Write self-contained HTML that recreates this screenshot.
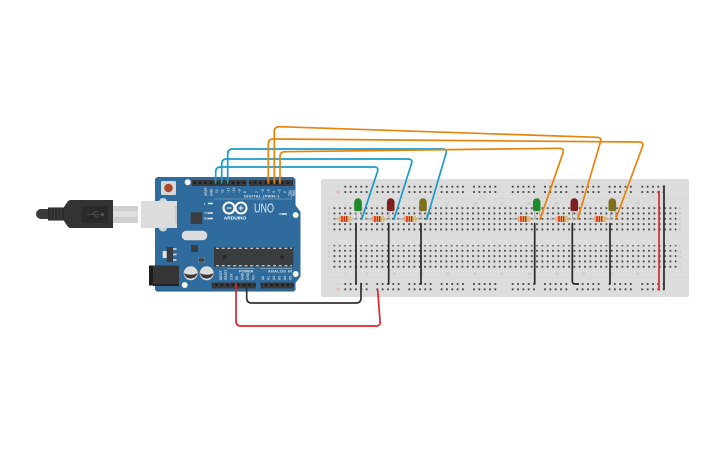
<!DOCTYPE html>
<html><head><meta charset="utf-8"><style>
html,body{margin:0;padding:0;background:#fff;width:725px;height:453px;overflow:hidden}
svg{display:block;filter:blur(.35px)}
text{font-family:"Liberation Sans",sans-serif}
</style></head><body>
<svg width="725" height="453" viewBox="0 0 725 453" xmlns="http://www.w3.org/2000/svg">
<defs>
<g id="d5"><rect x="-.9" y="-.9" width="1.8" height="1.8" fill="#444"/><rect x="4.43" y="-.9" width="1.8" height="1.8" fill="#444"/><rect x="9.77" y="-.9" width="1.8" height="1.8" fill="#444"/><rect x="15.1" y="-.9" width="1.8" height="1.8" fill="#444"/><rect x="20.43" y="-.9" width="1.8" height="1.8" fill="#444"/></g>
<g id="rail"><use href="#d5"/><use href="#d5" y="5.33"/></g>
<pattern id="holes" patternUnits="userSpaceOnUse" x="333.5" y="207.2" width="5.333" height="5.333"><rect x="0" y="0" width="1.8" height="1.8" fill="#444"/></pattern>
<pattern id="hdr" patternUnits="userSpaceOnUse" x="191.7" y="180" width="5.5" height="6"><rect width="5.5" height="6" fill="#3a3a3a"/><rect x="1.5" y="1.5" width="2.6" height="2.6" fill="#1f1f1f"/></pattern>
<g id="res"><rect x="-12" y="-.5" width="25" height="1" fill="#a9a9a9"/><rect x="-7" y="-2.9" width="14" height="5.8" rx="2.6" fill="#dcb97c"/><rect x="-3.8" y="-2.9" width="1.5" height="5.8" fill="#f01c14"/><rect x="-1.3" y="-2.9" width="1.5" height="5.8" fill="#f01c14"/><rect x="1" y="-2.9" width="1.4" height="5.8" fill="#8a4a1c"/></g>
<g id="legs"><path d="M-2.2 10L-1.6 21M2 10L4 21" stroke="#a8a8a8" stroke-width="1" fill="none"/></g>
</defs>

<!-- breadboard -->
<rect x="321" y="179" width="368" height="118" rx="2" fill="#dcdcdc"/>
<path d="M321 198.5H689M321 277H689" stroke="#cfcfcf" stroke-width=".6"/>
<rect x="333.5" y="207.2" width="343" height="23.5" fill="url(#holes)"/>
<rect x="333.5" y="245.2" width="343" height="23.5" fill="url(#holes)"/>
<g>
<use href="#rail" x="345.3" y="186.7"/><use href="#rail" x="377.3" y="186.7"/><use href="#rail" x="409.3" y="186.7"/><use href="#rail" x="441.6" y="186.7"/><use href="#rail" x="474" y="186.7"/><use href="#rail" x="512.7" y="186.7"/><use href="#rail" x="545" y="186.7"/><use href="#rail" x="577.3" y="186.7"/><use href="#rail" x="609.5" y="186.7"/><use href="#rail" x="642.3" y="186.7"/>
<use href="#rail" x="345.3" y="284"/><use href="#rail" x="377.3" y="284"/><use href="#rail" x="409.3" y="284"/><use href="#rail" x="441.6" y="284"/><use href="#rail" x="474" y="284"/><use href="#rail" x="512.7" y="284"/><use href="#rail" x="545" y="284"/><use href="#rail" x="577.3" y="284"/><use href="#rail" x="609.5" y="284"/><use href="#rail" x="642.3" y="284"/>
</g>
<g font-size="3.4" fill="#b5b5b5" text-anchor="middle">
<text x="345.3" y="205">1</text><text x="367" y="205">5</text><text x="394" y="205">10</text><text x="421" y="205">15</text><text x="447.7" y="205">20</text><text x="475" y="205">25</text><text x="501.7" y="205">30</text><text x="529" y="205">35</text><text x="556.7" y="205">40</text><text x="583" y="205">45</text><text x="611.7" y="205">50</text><text x="637.7" y="205">55</text><text x="664" y="205">60</text>
<text x="345.3" y="275">1</text><text x="367" y="275">5</text><text x="394" y="275">10</text><text x="421" y="275">15</text><text x="447.7" y="275">20</text><text x="475" y="275">25</text><text x="501.7" y="275">30</text><text x="529" y="275">35</text><text x="556.7" y="275">40</text><text x="583" y="275">45</text><text x="611.7" y="275">50</text><text x="637.7" y="275">55</text><text x="664" y="275">60</text>
<text x="329" y="209.3">a</text><text x="329" y="214.6">b</text><text x="329" y="220">c</text><text x="329" y="225.3">d</text><text x="329" y="230.6">e</text>
<text x="329" y="247.3">f</text><text x="329" y="252.6">g</text><text x="329" y="258">h</text><text x="329" y="263.3">i</text><text x="329" y="268.6">j</text>
<text x="680" y="209.3">A</text><text x="680" y="214.6">B</text><text x="680" y="220">C</text><text x="680" y="225.3">D</text><text x="680" y="230.6">E</text>
<text x="680" y="247.3">F</text><text x="680" y="252.6">G</text><text x="680" y="258">H</text><text x="680" y="263.3">I</text><text x="680" y="268.6">J</text>
</g>
<path d="M336 186.7h4" stroke="#bcd3e6" stroke-width="1"/><path d="M336 192h4M338 190v4" stroke="#eeb0b0" stroke-width="1"/>
<path d="M336 284h4" stroke="#bcd3e6" stroke-width="1"/><path d="M336 289.3h4M338 287.3v4" stroke="#eeb0b0" stroke-width="1"/>

<!-- resistors -->
<use href="#res" x="345" y="219"/><use href="#res" x="378" y="219"/><use href="#res" x="410" y="219"/><use href="#res" x="524" y="219"/><use href="#res" x="562" y="219"/><use href="#res" x="600" y="219"/>
<!-- LEDs -->
<g>
<use href="#legs" x="358" y="198"/><path d="M354.2 210.5v-8.5a3.8 3.8 0 0 1 7.6 0v8.5q-3.8 1.2-7.6 0z" fill="#1f8a2a"/>
<use href="#legs" x="390.7" y="198"/><path d="M386.9 210.5v-8.5a3.8 3.8 0 0 1 7.6 0v8.5q-3.8 1.2-7.6 0z" fill="#7d1f1f"/>
<use href="#legs" x="423" y="198"/><path d="M419.2 210.5v-8.5a3.8 3.8 0 0 1 7.6 0v8.5q-3.8 1.2-7.6 0z" fill="#7f701a"/>
<use href="#legs" x="536.7" y="198"/><path d="M532.9 210.5v-8.5a3.8 3.8 0 0 1 7.6 0v8.5q-3.8 1.2-7.6 0z" fill="#1f8a2a"/>
<use href="#legs" x="574.3" y="198"/><path d="M570.5 210.5v-8.5a3.8 3.8 0 0 1 7.6 0v8.5q-3.8 1.2-7.6 0z" fill="#7d1f1f"/>
<use href="#legs" x="612.3" y="198"/><path d="M608.5 210.5v-8.5a3.8 3.8 0 0 1 7.6 0v8.5q-3.8 1.2-7.6 0z" fill="#7f701a"/>
</g>

<!-- USB cable -->
<path d="M48 209h-7a5 5 0 0 0 0 10h7z" fill="#3a3a3a"/>
<path d="M48 207.5h16v13H48z" fill="#2c2c2c"/>
<path d="M51 207v14M54.5 207v14M58 207v14M61 207v14" stroke="#555" stroke-width=".6"/>
<path d="M64 207l4-6 2-1h43v28H70l-2-1-4-6z" fill="#333"/>
<rect x="82" y="206" width="26" height="17" fill="#2a2a2a"/>
<g stroke="#555" stroke-width=".7" fill="none"><path d="M87 214.5h15"/><path d="M92 214.5l3-3h3M94 214.5l2 2.5h3"/></g><circle cx="102.500" cy="214.500" r="1.500" fill="#555"/>
<rect x="113" y="206" width="25" height="17" fill="#cfcfcf"/><rect x="113" y="211" width="25" height="6" fill="#dedede"/>

<!-- Arduino -->
<path d="M157 177H293l2.500 2.500V205l5 7v64.500l-5 6.500v6l-2 2H157l-2-2V179z" fill="#2f6c9d"/>
<path d="M155 289l2 2H293.500l2-2" fill="none" stroke="#27577e" stroke-width="1"/>
<circle cx="187.700" cy="182.300" r="3" fill="#f3f3ea"/><circle cx="295.700" cy="215" r="3" fill="#f3f3ea"/><circle cx="295.700" cy="274" r="3" fill="#f3f3ea"/><circle cx="184.700" cy="285" r="3" fill="#f3f3ea"/>
<rect x="161" y="181" width="15" height="14" rx="1" fill="#d6d6d6"/><circle cx="168.500" cy="188" r="4.300" fill="#a9472c"/>
<rect x="191.700" y="180" width="55" height="6" fill="url(#hdr)"/>
<rect x="249" y="180" width="44" height="6" fill="url(#hdr)"/>
<rect x="211.700" y="282.500" width="44" height="6" fill="url(#hdr)"/>
<rect x="260.700" y="282.500" width="33" height="6" fill="url(#hdr)"/>
<!-- USB socket -->
<ellipse cx="163" cy="201.500" rx="4" ry="3.500" fill="#c9d3da"/><ellipse cx="163" cy="228" rx="4" ry="3.500" fill="#c9d3da"/>
<rect x="141" y="201" width="36" height="27" fill="#dcdcdc"/><rect x="175" y="206" width="2" height="17" fill="#c8c8c8"/>
<!-- comps -->
<rect x="190.700" y="212.300" width="11.500" height="11.700" fill="#3a3d3f"/>
<rect x="181.700" y="230.700" width="25.600" height="9.600" rx="4.800" fill="#dcdcdc"/>
<rect x="191" y="245" width="7" height="7" fill="#3a3d3f"/>
<rect x="162.700" y="251" width="4.500" height="7" fill="#e4e4e4"/><rect x="166.700" y="247" width="6.500" height="15" fill="#3a3d3f"/><path d="M173 249h3.500M173 254.500h3.500M173 260h3.500" stroke="#ddd" stroke-width="1.500"/>
<rect x="199" y="257" width="5" height="6" fill="#3a3d3f"/><path d="M198 258h7M198 262h7" stroke="#ccc" stroke-width=".6"/>
<rect x="149" y="265.500" width="7" height="20" fill="#1d1d1d"/><rect x="153" y="265.500" width="26" height="20" rx="1.500" fill="#353535"/><rect x="153" y="284" width="26" height="2" fill="#222"/>
<circle cx="190.700" cy="273.300" r="7" fill="#dcdcdc"/><path d="M183.900 273.300a7 7 0 0 0 13.600 0q-6.800 3-13.600 0z" fill="#3a3a3a"/>
<circle cx="206.700" cy="273.300" r="7" fill="#dcdcdc"/><path d="M199.900 273.300a7 7 0 0 0 13.600 0q-6.800 3-13.600 0z" fill="#3a3a3a"/>
<!-- chip -->
<rect x="214" y="247.300" width="79.300" height="19.400" fill="#3a3d3f"/>
<path d="M216 248.300H292M216 265.700H292" stroke="#e8e8e8" stroke-width="1" stroke-dasharray="3 2.700" fill="none"/>
<circle cx="225" cy="256.800" r="2" fill="#26282a"/><circle cx="281.700" cy="256.800" r="2" fill="#26282a"/>
<!-- logo -->
<g fill="none" stroke="#fff" stroke-width="2"><circle cx="229" cy="208" r="5.500"/><circle cx="241" cy="208" r="5.500"/></g>
<path d="M226.500 208h5M238.500 208h5M241 205.500v5" stroke="#fff" stroke-width="1"/>
<text x="235" y="219.300" font-size="4.800" font-weight="700" fill="#fff" text-anchor="middle">ARDUINO</text>
<text x="254" y="212.500" font-size="12.500" fill="#dfe9f1" textLength="20" lengthAdjust="spacingAndGlyphs">UNO</text>
<text x="244" y="197.500" font-size="3.900" font-weight="700" fill="#d5e2ec" textLength="35">DIGITAL (PWM~)</text>
<path d="M214 199H291.700V190" stroke="#8fb2cd" stroke-width=".6" fill="none"/>
<path d="M227 268.300H254M260 268.300H292" stroke="#8fb2cd" stroke-width=".6"/>
<text x="239" y="272.500" font-size="3.800" font-weight="700" fill="#d5e2ec">POWER</text>
<text x="268" y="272.500" font-size="3.800" font-weight="700" fill="#d5e2ec" textLength="24">ANALOG IN</text>
<g font-size="3.200" fill="#cfdde9" font-weight="700">
<text transform="translate(207,196) rotate(-90)">AREF</text><text transform="translate(212.500,196) rotate(-90)">GND</text><text transform="translate(218,193) rotate(-90)">13</text><text transform="translate(223.700,193) rotate(-90)">12</text><text transform="translate(229.500,193) rotate(-90)">~11</text><text transform="translate(235,193) rotate(-90)">~10</text><text transform="translate(240.500,193) rotate(-90)">~9</text><text transform="translate(246,193) rotate(-90)">8</text>
<text transform="translate(258,193) rotate(-90)">7</text><text transform="translate(264,193) rotate(-90)">~6</text><text transform="translate(269.500,193) rotate(-90)">~5</text><text transform="translate(275,193) rotate(-90)">4</text><text transform="translate(280.500,193) rotate(-90)">~3</text><text transform="translate(286,193) rotate(-90)">2</text><text transform="translate(291,196) rotate(-90)">TX1</text><text transform="translate(295,196) rotate(-90)">RX0</text>
<text transform="translate(222,280) rotate(-90)">IOREF</text><text transform="translate(227,280) rotate(-90)">RESET</text><text transform="translate(232.500,280) rotate(-90)">3.3V</text><text transform="translate(238,280) rotate(-90)">5V</text><text transform="translate(243.500,280) rotate(-90)">GND</text><text transform="translate(249,280) rotate(-90)">GND</text><text transform="translate(254.500,280) rotate(-90)">Vin</text>
<text transform="translate(264,280) rotate(-90)">A0</text><text transform="translate(269.500,280) rotate(-90)">A1</text><text transform="translate(275,280) rotate(-90)">A2</text><text transform="translate(280.500,280) rotate(-90)">A3</text><text transform="translate(286,280) rotate(-90)">A4</text><text transform="translate(291.500,280) rotate(-90)">A5</text>
</g>
<g font-size="3" fill="#d5e2ec" font-weight="700">
<text x="204" y="205">L</text><text x="204" y="214">TX</text><text x="204" y="219.500">RX</text><text x="279" y="215">ON</text>
</g>
<path d="M208 203.500h5M208 213h5M208 218.500h5M282 214h5" stroke="#dfe9f1" stroke-width="1.600"/>

<!-- wires -->
<g fill="none" stroke-width="1.700" stroke-linecap="round" stroke-linejoin="round">
<g stroke="#2a2a2a">
<path d="M356 223.500V284M388.700 223.500V284M421 223.500V284M534.700 223.500V284M610 223.500V284"/>
<path d="M572.300 223.500V281q0 3 3 3h3"/>
<path d="M664 186V289.300"/>
</g>
<path d="M659 191.300V290" stroke="#cf2f2f"/>
<path d="M246.700 284V298q0 5 5 5H356q5 0 5-5V283.500" stroke="#333"/>
<path d="M236 284V321q0 5 5 5H376q5 0 4-5L377.700 290" stroke="#e0262c"/>
<g stroke="#1a9bc9">
<path d="M215.700 183V172q0-5 5-5H374q5 0 3.500 4.500L361.700 219.300"/>
<path d="M221.700 183V164q0-5 5-5H408q5 0 3.500 4.500L394 219.300"/>
<path d="M227.700 183V154q0-5 5-5H443q4.500 0 3 4.500L426.700 219.300"/>
</g>
<g stroke="#e8830c">
<path d="M268.300 183V144q0-5 5-5L639 142q5 0 3.500 4.500L615.700 219.300"/>
<path d="M274.300 183V131.700q0-5 5-5L597 137.300q5 0 3.500 4.500L577.700 219.300"/>
<path d="M280 183V156.700q0-5 5-5L559.500 148.300q5 0 3.500 4.500L540 219.300"/>
</g>
</g>
</svg>
</body></html>
